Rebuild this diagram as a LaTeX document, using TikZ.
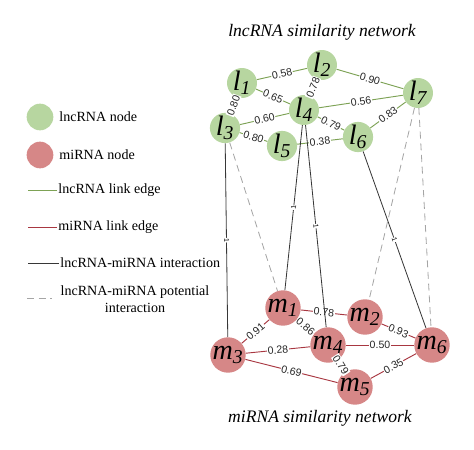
\documentclass[tikz,border=0pt]{standalone}
\usepackage{fontspec}
\setmainfont{Liberation Serif}
\newfontfamily\wtfont{Liberation Sans}
\usetikzlibrary{positioning}

\definecolor{lncfill}{RGB}{183,214,160}
\definecolor{mirfill}{RGB}{214,135,135}
\definecolor{lncline}{RGB}{125,162,85}
\definecolor{mirline}{RGB}{168,55,65}
\definecolor{intline}{RGB}{55,55,55}
\definecolor{potline}{RGB}{165,165,165}

\begin{document}
\begin{tikzpicture}[
	lnc/.style={circle, fill=lncfill, minimum size=0.86cm, inner sep=0pt, font=\fontsize{24}{24}\selectfont\itshape},
	mir/.style={circle, fill=mirfill, minimum size=0.84cm, inner sep=0pt, font=\fontsize{24}{24}\selectfont\itshape},
	lncedge/.style={lncline, line width=0.8pt},
	miredge/.style={mirline, line width=0.8pt},
	inter/.style={intline, line width=0.7pt},
	potential/.style={potline, line width=0.7pt, dash pattern=on 6pt off 4pt},
	wt/.style={text=black!85, font=\wtfont\fontsize{9}{9}\selectfont, fill=white, inner sep=0.6pt, sloped},
	one/.style={text=black, font=\wtfont\fontsize{6}{6}\selectfont, fill=white, inner sep=0.3pt, sloped},
	legtext/.style={anchor=west, inner sep=1pt, font=\fontsize{12}{14.5}\selectfont},
	title/.style={font=\fontsize{15}{17}\selectfont\itshape}
]
	\useasboundingbox (0,0) rectangle (14.22,13.5);

	% Legend
	\node[circle, fill=lncfill, minimum size=0.8cm, inner sep=0pt] (leg1) at (1.2, 9.99) {};
	\node[legtext] (t1) at (1.74, 9.99) {lncRNA node};
	\node[circle, fill=mirfill, minimum size=0.8cm, inner sep=0pt] (leg2) at (1.2, 8.85) {};
	\node[legtext] (t2) at (1.74, 8.85) {miRNA node};
	\node[legtext] (t3) at (1.71, 7.80) {lncRNA link edge};
	\draw[lncedge] (t3.west) -- ++(-0.88, 0);
	\node[legtext] (t4) at (1.71, 6.69) {miRNA link edge};
	\draw[miredge] (t4.west) -- ++(-0.88, 0);
	\node[legtext] (t5) at (1.77, 5.61) {lncRNA-miRNA interaction};
	\draw[inter] (t5.west) -- ++(-0.94, 0);
	\node[font=\fontsize{12}{14.5}\selectfont, align=center] (t6) at (4.05, 4.52) {lncRNA-miRNA potential\\interaction};
	\coordinate (d0) at (0.81, 4.56);
	\draw[potential] (d0) -- ++(0.75, 0);

	% lncRNA similarity network
	\node[title] (ltitle) at (9.66, 12.54) {lncRNA similarity network};
	\node[lnc] (l1) at (7.26, 11.01) {l\textsubscript{1}};
	\node[lnc] (l2) at (9.66, 11.55) {l\textsubscript{2}};
	\node[lnc] (l3) at (6.75, 9.66) {l\textsubscript{3}};
	\node[lnc] (l4) at (9.12, 10.20) {l\textsubscript{4}};
	\node[lnc] (l5) at (8.46, 9.12) {l\textsubscript{5}};
	\node[lnc] (l6) at (10.74, 9.39) {l\textsubscript{6}};
	\node[lnc] (l7) at (12.54, 10.71) {l\textsubscript{7}};
	\draw[lncedge] (l1) -- node[wt] {0.58} (l2);
	\draw[lncedge] (l2) -- node[wt] {0.78} (l4);
	\draw[lncedge] (l2) -- node[wt] {0.90} (l7);
	\draw[lncedge] (l1) -- node[wt] {0.65} (l4);
	\draw[lncedge] (l1) -- node[wt] {0.80} (l3);
	\draw[lncedge] (l3) -- node[wt] {0.60} (l4);
	\draw[lncedge] (l4) -- node[wt] {0.56} (l7);
	\draw[lncedge] (l4) -- node[wt] {0.79} (l6);
	\draw[lncedge] (l3) -- node[wt] {0.80} (l5);
	\draw[lncedge] (l5) -- node[wt] {0.38} (l6);
	\draw[lncedge] (l6) -- node[wt] {0.83} (l7);

	% miRNA similarity network
	\node[title] (mtitle) at (9.60, 0.96) {miRNA similarity network};
	\node[mir] (m1) at (8.49, 4.26) {m\textsubscript{1}};
	\node[mir] (m2) at (10.95, 3.99) {m\textsubscript{2}};
	\node[mir] (m3) at (6.84, 2.85) {m\textsubscript{3}};
	\node[mir] (m4) at (9.84, 3.15) {m\textsubscript{4}};
	\node[mir] (m5) at (10.65, 1.89) {m\textsubscript{5}};
	\node[mir] (m6) at (12.96, 3.15) {m\textsubscript{6}};
	\draw[miredge] (m1) -- node[wt] {0.91} (m3);
	\draw[miredge] (m1) -- node[wt] {0.78} (m2);
	\draw[miredge] (m1) -- node[wt] {0.86} (m4);
	\draw[miredge] (m2) -- node[wt] {0.93} (m6);
	\draw[miredge] (m3) -- node[wt] {0.28} (m4);
	\draw[miredge] (m4) -- node[wt] {0.50} (m6);
	\draw[miredge] (m4) -- node[wt, pos=0.4] {0.79} (m5);
	\draw[miredge] (m3) -- node[wt] {0.69} (m5);
	\draw[miredge] (m5) -- node[wt] {0.35} (m6);

	% interactions between the two networks
	\draw[inter] (l3) -- node[one] {1} (m3);
	\draw[inter] (l4) -- node[one] {1} (m1);
	\draw[inter] (l4) -- node[one] {1} (m4);
	\draw[inter] (l6) -- node[one] {1} (m6);
	\draw[potential] (l3) -- (m1);
	\draw[potential] (l7) -- (m2);
	\draw[potential] (l7) -- (m6);
\end{tikzpicture}
\end{document}
